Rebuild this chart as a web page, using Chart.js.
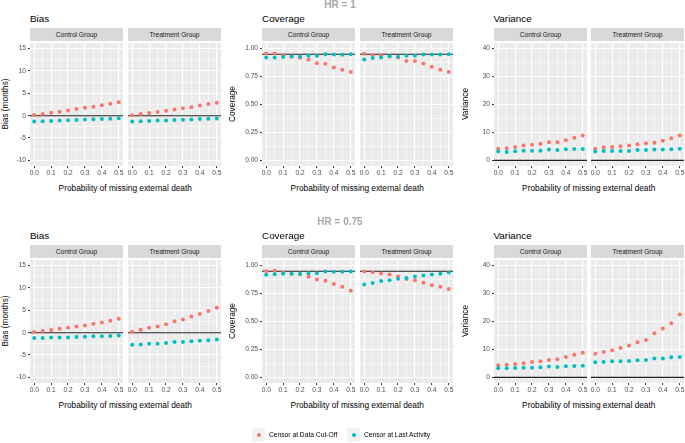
<!DOCTYPE html>
<html>
<head>
<meta charset="utf-8">
<script src="https://cdn.jsdelivr.net/npm/chart.js@4.4.1/dist/chart.umd.min.js"></script>
<style>
  html, body { margin: 0; padding: 0; background: #fff; }
  #wrap { position: relative; width: 685px; height: 443px; overflow: hidden;
          font-family: "Liberation Sans", Arial, sans-serif; }
  .abs { position: absolute; white-space: nowrap; }
  .hr { font-weight: bold; font-size: 10px; line-height: 10px; color: #a8a8a8; transform: translateX(-50%); }
  .title { font-size: 9.9px; line-height: 10px; color: #000; }
  .strip { background: #d9d9d9; color: #1a1a1a; font-size: 6.6px; text-align: center; line-height: 13px; height: 13px; }
  .ytitle { font-size: 8.3px; line-height: 9px; color: #000; transform: translate(-50%, -50%) rotate(-90deg); }
  .xtitle { font-size: 8.3px; line-height: 9px; color: #000; transform: translateX(-50%); }
  .key { background: #f2f2f2; width: 13px; height: 14px; }
  .dot { width: 4px; height: 4px; border-radius: 50%; }
  .ltext { font-size: 6.7px; line-height: 8px; color: #000; }
  canvas { position: absolute; }
</style>
</head>
<body>
<div id="wrap"></div>
<script>
// x values and tick labels
const xValues = [0, 0.05, 0.1, 0.15, 0.2, 0.25, 0.3, 0.35, 0.4, 0.45, 0.5];
const xTicks = [0, 0.1, 0.2, 0.3, 0.4, 0.5];
const xTickLabels = ['0.0', '0.1', '0.2', '0.3', '0.4', '0.5'];
const biasTicks = [-10, -5, 0, 5, 10, 15];
const biasTickLabels = ['-10', '-5', '0', '5', '10', '15'];
const coverageTicks = [0, 0.25, 0.5, 0.75, 1];
const coverageTickLabels = ['0.00', '0.25', '0.50', '0.75', '1.00'];
const varianceTicks = [0, 10, 20, 30, 40];
const varianceTickLabels = ['0', '10', '20', '30', '40'];
const groups = ['Control Group', 'Treatment Group'];
const seriesNames = ['Censor at Data Cut-Off', 'Censor at Last Activity'];
const seriesColors = ['#F8766D', '#00BFC4'];
const refLines = { bias: 0, coverage: 0.95, variance: 0 };

// HR = 1
const hr1BiasControlCutoff = [0.15, 0.37, 0.66, 0.88, 1.18, 1.47, 1.76, 1.99, 2.35, 2.65, 3.0];
const hr1BiasControlLast = [-1.32, -1.25, -1.18, -1.1, -1.03, -0.96, -0.88, -0.8, -0.74, -0.66, -0.6];
const hr1BiasTreatCutoff = [0.1, 0.35, 0.6, 0.85, 1.1, 1.4, 1.65, 1.9, 2.3, 2.6, 2.9];
const hr1BiasTreatLast = [-1.3, -1.25, -1.2, -1.1, -1.05, -0.95, -0.9, -0.85, -0.75, -0.7, -0.65];
const hr1CoverageControlCutoff = [0.956, 0.956, 0.94, 0.93, 0.918, 0.90, 0.87, 0.865, 0.832, 0.81, 0.79];
const hr1CoverageControlLast = [0.92, 0.92, 0.925, 0.93, 0.93, 0.935, 0.935, 0.95, 0.947, 0.944, 0.95];
const hr1CoverageTreatCutoff = [0.953, 0.94, 0.94, 0.93, 0.92, 0.888, 0.888, 0.867, 0.838, 0.81, 0.79];
const hr1CoverageTreatLast = [0.903, 0.915, 0.92, 0.932, 0.926, 0.935, 0.935, 0.947, 0.947, 0.947, 0.95];
const hr1VarianceControlCutoff = [4.2, 4.35, 4.8, 5.3, 5.6, 6.0, 6.5, 6.5, 7.2, 8.1, 8.9];
const hr1VarianceControlLast = [3.2, 3.05, 3.3, 3.5, 3.5, 3.5, 3.9, 3.75, 4.0, 4.1, 4.1];
const hr1VarianceTreatCutoff = [4.2, 4.7, 4.8, 5.1, 5.3, 5.8, 6.1, 6.35, 7.05, 7.9, 8.9];
const hr1VarianceTreatLast = [3.2, 3.4, 3.4, 3.4, 3.4, 3.75, 3.75, 3.9, 3.9, 4.0, 4.2];

// HR = 0.75
const hr075BiasControlCutoff = [0.15, 0.37, 0.6, 0.9, 1.1, 1.4, 1.6, 2.0, 2.3, 2.65, 3.1];
const hr075BiasControlLast = [-1.2, -1.2, -1.1, -1.05, -1.05, -0.95, -0.9, -0.8, -0.8, -0.75, -0.65];
const hr075BiasTreatCutoff = [0.2, 0.65, 1.1, 1.4, 1.9, 2.55, 2.95, 3.6, 4.2, 4.85, 5.6];
const hr075BiasTreatLast = [-2.7, -2.65, -2.5, -2.45, -2.3, -2.1, -2.1, -1.9, -1.8, -1.7, -1.55];
const hr075CoverageControlCutoff = [0.95, 0.953, 0.938, 0.926, 0.92, 0.9, 0.876, 0.865, 0.835, 0.81, 0.776];
const hr075CoverageControlLast = [0.918, 0.923, 0.926, 0.926, 0.926, 0.932, 0.932, 0.947, 0.944, 0.944, 0.947];
const hr075CoverageTreatCutoff = [0.947, 0.94, 0.93, 0.92, 0.903, 0.88, 0.868, 0.847, 0.824, 0.81, 0.79];
const hr075CoverageTreatLast = [0.83, 0.845, 0.862, 0.87, 0.882, 0.89, 0.903, 0.912, 0.92, 0.926, 0.938];
const hr075VarianceControlCutoff = [4.35, 4.5, 4.8, 5.05, 5.5, 5.75, 6.2, 6.5, 7.3, 8.1, 8.8];
const hr075VarianceControlLast = [3.3, 3.3, 3.4, 3.5, 3.5, 3.65, 3.9, 3.75, 4.0, 4.1, 4.2];
const hr075VarianceTreatCutoff = [8.5, 9.05, 9.75, 10.5, 11.4, 12.6, 13.4, 15.8, 17.5, 19.4, 22.5];
const hr075VarianceTreatLast = [5.4, 5.5, 5.75, 5.75, 5.9, 6.1, 6.2, 6.8, 6.8, 7.2, 7.3];

const FONT = '"Liberation Sans", Arial, sans-serif';
const PANEL_W = 93, PANEL_H = 125, X_AXIS_H = 16, Y_AXIS_W = 22, PAD = 6;

const metrics = [
    { key: 'bias', title: 'Bias', yTitle: 'Bias (months)', min: -11.25, max: 16.25,
      ticks: biasTicks, labels: biasTickLabels, left: 30, yTitleX: 5 },
    { key: 'coverage', title: 'Coverage', yTitle: 'Coverage', min: -0.05, max: 1.05,
      ticks: coverageTicks, labels: coverageTickLabels, left: 262, yTitleX: 232 },
    { key: 'variance', title: 'Variance', yTitle: 'Variance', min: -2, max: 42,
      ticks: varianceTicks, labels: varianceTickLabels, left: 493.5, yTitleX: 465 }
];

const rows = [
    { label: 'HR = 1', dy: 0, series: {
        bias: [[hr1BiasControlCutoff, hr1BiasControlLast], [hr1BiasTreatCutoff, hr1BiasTreatLast]],
        coverage: [[hr1CoverageControlCutoff, hr1CoverageControlLast], [hr1CoverageTreatCutoff, hr1CoverageTreatLast]],
        variance: [[hr1VarianceControlCutoff, hr1VarianceControlLast], [hr1VarianceTreatCutoff, hr1VarianceTreatLast]]
    } },
    { label: 'HR = 0.75', dy: 217, series: {
        bias: [[hr075BiasControlCutoff, hr075BiasControlLast], [hr075BiasTreatCutoff, hr075BiasTreatLast]],
        coverage: [[hr075CoverageControlCutoff, hr075CoverageControlLast], [hr075CoverageTreatCutoff, hr075CoverageTreatLast]],
        variance: [[hr075VarianceControlCutoff, hr075VarianceControlLast], [hr075VarianceTreatCutoff, hr075VarianceTreatLast]]
    } }
];

const wrap = document.getElementById('wrap');

function addText(cls, text, left, top, extra) {
    const el = document.createElement('div');
    el.className = 'abs ' + cls;
    el.textContent = text;
    el.style.left = left + 'px';
    el.style.top = top + 'px';
    if (extra) Object.assign(el.style, extra);
    wrap.appendChild(el);
    return el;
}

// Midpoints between major ticks -> minor grid lines
function withMinor(majors) {
    const all = majors.map(v => ({ value: v }));
    for (let i = 0; i < majors.length - 1; i++) {
        all.push({ value: (majors[i] + majors[i + 1]) / 2, minor: true });
    }
    return all.sort((a, b) => a.value - b.value);
}

// Grey panel background
const panelBg = {
    id: 'panelBg',
    beforeDraw(chart) {
        const { ctx, chartArea: a } = chart;
        ctx.save();
        ctx.fillStyle = '#EBEBEB';
        ctx.fillRect(a.left, a.top, a.right - a.left, a.bottom - a.top);
        ctx.restore();
    }
};

// Horizontal reference line (geom_hline)
const refLine = {
    id: 'refLine',
    beforeDatasetsDraw(chart, args, opts) {
        const { ctx, chartArea: a } = chart;
        const y = chart.scales.y.getPixelForValue(opts.value);
        ctx.save();
        ctx.strokeStyle = '#222';
        ctx.lineWidth = 1.1;
        ctx.beginPath();
        ctx.moveTo(a.left, y);
        ctx.lineTo(a.right, y);
        ctx.stroke();
        ctx.restore();
    }
};

const gridStyle = (showTicks) => ({
    color: '#ffffff',
    lineWidth: ctx => (ctx.tick && ctx.tick.minor ? 0.55 : 1.1),
    drawTicks: showTicks,
    tickLength: 2,
    tickWidth: 1,
    tickColor: ctx => (ctx.tick && ctx.tick.minor ? 'rgba(0,0,0,0)' : '#333333')
});

function makePanel(panelLeft, panelTop, showY, metric, cutoff, last) {
    const yW = showY ? Y_AXIS_W : 0;
    const padL = showY ? 0 : PAD;
    const canvas = document.createElement('canvas');
    canvas.width = yW + padL + PANEL_W + PAD;
    canvas.height = PANEL_H + X_AXIS_H;
    canvas.style.left = (Math.round(panelLeft) - yW - padL) + 'px';
    canvas.style.top = Math.round(panelTop) + 'px';
    wrap.appendChild(canvas);

    const xAll = withMinor(xTicks);
    const yAll = withMinor(metric.ticks);

    new Chart(canvas, {
        type: 'scatter',
        data: {
            datasets: [
                { label: seriesNames[0], data: xValues.map((x, i) => ({ x: x, y: cutoff[i] })),
                  backgroundColor: seriesColors[0], borderWidth: 0, pointRadius: 2, pointHoverRadius: 2, order: 2 },
                { label: seriesNames[1], data: xValues.map((x, i) => ({ x: x, y: last[i] })),
                  backgroundColor: seriesColors[1], borderWidth: 0, pointRadius: 2, pointHoverRadius: 2, order: 1 }
            ]
        },
        options: {
            responsive: false,
            animation: false,
            events: [],
            layout: { padding: { left: padL, right: PAD, top: 0, bottom: 0 } },
            plugins: {
                legend: { display: false },
                tooltip: { enabled: false },
                refLine: { value: refLines[metric.key] }
            },
            scales: {
                x: {
                    type: 'linear',
                    min: -0.025,
                    max: 0.525,
                    afterBuildTicks: s => { s.ticks = xAll.map(t => ({ ...t })); },
                    afterFit: s => { s.height = X_AXIS_H; s.paddingLeft = 0; s.paddingRight = 0; },
                    border: { display: false },
                    grid: gridStyle(true),
                    ticks: {
                        autoSkip: false, maxRotation: 0, minRotation: 0, padding: 1.5,
                        color: '#4D4D4D', font: { family: FONT, size: 6.6 },
                        callback: (val, i, ticks) => (ticks[i].minor ? '' : xTickLabels[xTicks.indexOf(val)])
                    }
                },
                y: {
                    type: 'linear',
                    min: metric.min,
                    max: metric.max,
                    afterBuildTicks: s => { s.ticks = yAll.map(t => ({ ...t })); },
                    afterFit: s => { s.width = yW; s.paddingTop = 0; s.paddingBottom = 0; },
                    border: { display: false },
                    grid: gridStyle(showY),
                    ticks: {
                        display: showY, autoSkip: false, padding: 2,
                        color: '#4D4D4D', font: { family: FONT, size: 6.6 },
                        callback: (val, i, ticks) => (ticks[i].minor ? '' : metric.labels[metric.ticks.indexOf(val)])
                    }
                }
            }
        },
        plugins: [panelBg, refLine]
    });
}

rows.forEach(row => {
    const dy = row.dy;
    addText('hr', row.label, 340, dy);
    metrics.forEach(m => {
        addText('title', m.title, m.left, 14 + dy);
        addText('ytitle', m.yTitle, m.yTitleX, 41 + PANEL_H / 2 + dy);
        const spanCenter = m.left + (PANEL_W * 2 + 4.5) / 2;
        addText('xtitle', 'Probability of missing external death', spanCenter, 183.5 + dy);
        groups.forEach((g, gi) => {
            const left = m.left + gi * (PANEL_W + 4.5);
            addText('strip', g, Math.round(left), 28 + dy, { width: PANEL_W + 'px' });
            const s = row.series[m.key][gi];
            makePanel(left, 41 + dy, gi === 0, m, s[0], s[1]);
        });
    });
});

// Legend
const legendItems = [{ keyLeft: 252 }, { keyLeft: 347 }];
legendItems.forEach((item, i) => {
    addText('key', '', item.keyLeft, 428);
    addText('dot', '', item.keyLeft + 4.5, 433, { background: seriesColors[i] });
    addText('ltext', seriesNames[i], item.keyLeft + 17, 431);
});
</script>
</body>
</html>
